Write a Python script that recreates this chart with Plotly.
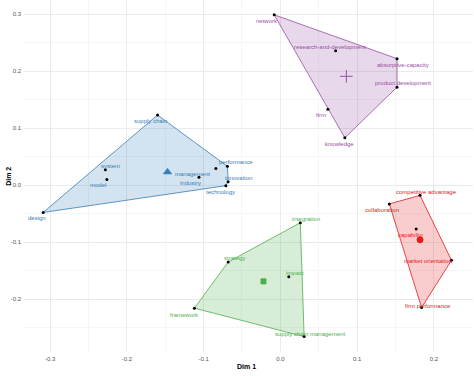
import plotly.graph_objects as go

# ---- data ----
blue_terms = ["supply chain", "design", "system", "model", "performance",
              "management", "industry", "innovation", "technology"]
blue_x = [-0.160, -0.309, -0.228, -0.226, -0.069, -0.084, -0.106, -0.068, -0.071]
blue_y = [0.123, -0.048, 0.027, 0.010, 0.033, 0.029, 0.014, 0.006, -0.001]
blue_center = (-0.147, 0.023)

purple_terms = ["network", "research-and-development", "absorptive-capacity",
                "product development", "firm", "knowledge"]
purple_x = [-0.008, 0.072, 0.152, 0.152, 0.062, 0.084]
purple_y = [0.299, 0.236, 0.222, 0.172, 0.133, 0.083]
purple_center = (0.086, 0.191)

green_terms = ["integration", "strategy", "impact", "framework", "supply chain management"]
green_x = [0.026, -0.068, 0.011, -0.112, 0.031]
green_y = [-0.066, -0.135, -0.161, -0.216, -0.266]
green_center = (-0.022, -0.169)

red_terms = ["competitive advantage", "collaboration", "capability",
             "market orientation", "firm performance"]
red_x = [0.182, 0.142, 0.177, 0.223, 0.184]
red_y = [-0.018, -0.033, -0.077, -0.132, -0.215]
red_center = (0.182, -0.096)

# ---- label offsets in pixels (dx right, dy down) ----
offsets = {
    "supply chain": (-7, 6), "design": (-6, 6), "system": (5, -4), "model": (-9, 6),
    "performance": (9, -4), "management": (-23, 5), "industry": (-8, 6),
    "innovation": (10, -4), "technology": (-5, 6),
    "network": (-7, 6), "research-and-development": (-6, -4),
    "absorptive-capacity": (6, 6), "product development": (6, -4),
    "firm": (-7, 6), "knowledge": (-5, 6),
    "integration": (6, -4), "strategy": (6, -4), "impact": (6, -4),
    "framework": (-10, 7), "supply chain management": (6, -3),
    "competitive advantage": (6, -3), "collaboration": (-7, 6),
    "capability": (-6, 6), "market orientation": (-24, 1), "firm performance": (6, -2),
}


def hull(xs, ys):
    pts = sorted(zip(xs, ys))

    def cross(o, a, b):
        return (a[0] - o[0]) * (b[1] - o[1]) - (a[1] - o[1]) * (b[0] - o[0])

    lower, upper = [], []
    for p in pts:
        while len(lower) >= 2 and cross(lower[-2], lower[-1], p) <= 0:
            lower.pop()
        lower.append(p)
    for p in reversed(pts):
        while len(upper) >= 2 and cross(upper[-2], upper[-1], p) <= 0:
            upper.pop()
        upper.append(p)
    h = lower[:-1] + upper[:-1]
    h.append(h[0])
    return [p[0] for p in h], [p[1] for p in h]


groups = [
    (blue_terms, blue_x, blue_y, blue_center, "#377EB8", "rgba(55,126,184,0.22)", "triangle-up", 7),
    (purple_terms, purple_x, purple_y, purple_center, "#984EA3", "rgba(152,78,163,0.22)", "cross-thin", 9),
    (green_terms, green_x, green_y, green_center, "#4DAF4A", "rgba(77,175,74,0.22)", "square", 5),
    (red_terms, red_x, red_y, red_center, "#E41A1C", "rgba(228,26,28,0.22)", "circle", 6),
]

fig = go.Figure()
annotations = []
for terms, xs, ys, ctr, col, fillc, sym, msz in groups:
    hx, hy = hull(xs, ys)
    fig.add_trace(go.Scatter(x=hx, y=hy, mode="lines", fill="toself", fillcolor=fillc,
                             line=dict(color=col, width=0.8), hoverinfo="skip", showlegend=False))
    fig.add_trace(go.Scatter(x=xs, y=ys, mode="markers",
                             marker=dict(color="black", size=3), showlegend=False))
    fig.add_trace(go.Scatter(x=[ctr[0]], y=[ctr[1]], mode="markers",
                             marker=dict(color=col, size=msz, symbol=sym,
                                         line=dict(color=col, width=1)),
                             showlegend=False))
    for t, x, y in zip(terms, xs, ys):
        dx, dy = offsets[t]
        annotations.append(dict(x=x, y=y, text=t, showarrow=False, xshift=dx, yshift=-dy,
                                font=dict(size=6, color=col, family="Liberation Sans")))

annotations.append(dict(text="<b>Dim 1</b>", xref="paper", yref="paper", x=0.495, y=-0.04,
                        showarrow=False, font=dict(size=7, color="black", family="Liberation Sans"),
                        yanchor="middle"))
annotations.append(dict(text="<b>Dim 2</b>", xref="paper", yref="paper", x=-0.036, y=0.5,
                        showarrow=False, textangle=-90,
                        font=dict(size=7, color="black", family="Liberation Sans"),
                        xanchor="center"))

axis_common = dict(showline=False, zeroline=False, ticks="", automargin=False,
                   gridcolor="#ebebeb", gridwidth=1, ticklabelstandoff=2,
                   tickfont=dict(size=6, color="#555555", family="Liberation Sans"),
                   minor=dict(showgrid=True, gridcolor="#f5f5f5", gridwidth=0.6))

fig.update_layout(
    width=474, height=376,
    margin=dict(l=24, r=1, t=0, b=24),
    paper_bgcolor="white", plot_bgcolor="white",
    annotations=annotations,
    xaxis=dict(range=[-0.334, 0.251], tickvals=[-0.3, -0.2, -0.1, 0.0, 0.1, 0.2],
               ticktext=["-0.3", "-0.2", "-0.1", "0.0", "0.1", "0.2"], **axis_common),
    yaxis=dict(range=[-0.293, 0.325], tickvals=[-0.2, -0.1, 0.0, 0.1, 0.2, 0.3],
               ticktext=["-0.2", "-0.1", "0.0", "0.1", "0.2", "0.3"], **axis_common),
)
fig.update_xaxes(minor=dict(tickvals=[-0.25, -0.15, -0.05, 0.05, 0.15]))
fig.update_yaxes(minor=dict(tickvals=[-0.25, -0.15, -0.05, 0.05, 0.15, 0.25]))

fig.write_html("out.html", config={"displayModeBar": False},
               post_script="document.body.style.margin='0';document.body.style.overflow='hidden';")
